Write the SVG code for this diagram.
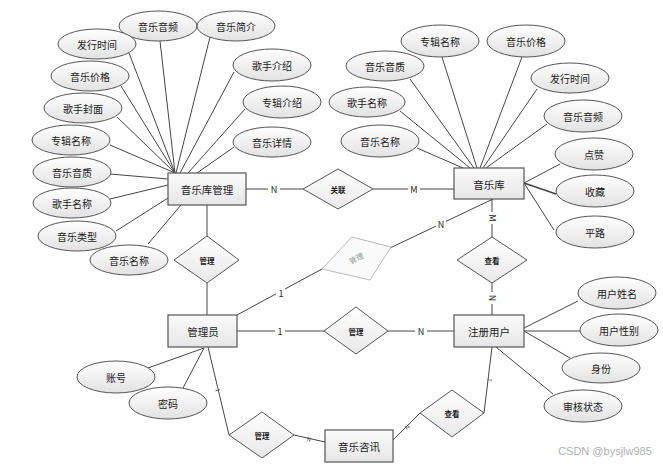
<svg xmlns="http://www.w3.org/2000/svg" width="663" height="464" viewBox="0 0 663 464">
<defs>
<linearGradient id="gE" x1="0" y1="0" x2="0" y2="1"><stop offset="0" stop-color="#ffffff"/><stop offset="1" stop-color="#e2e2e2"/></linearGradient>
<linearGradient id="gR" x1="0" y1="0" x2="0" y2="1"><stop offset="0" stop-color="#fbfbfb"/><stop offset="1" stop-color="#e6e6e6"/></linearGradient>
<linearGradient id="gD" x1="0" y1="0" x2="0" y2="1"><stop offset="0" stop-color="#ffffff"/><stop offset="1" stop-color="#e8e8e8"/></linearGradient>
</defs>
<style>
text{font-family:"Noto Sans CJK SC","Liberation Sans",sans-serif;fill:#1a1a1a;text-anchor:middle;dominant-baseline:central}
.a ellipse{fill:url(#gE);stroke:#555;stroke-width:1}
.a text{font-size:10px}
.e rect{fill:url(#gR);stroke:#555;stroke-width:1.2}
.e text{font-size:10.5px}
.r polygon{fill:url(#gD);stroke:#555;stroke-width:1}
.r text{font-size:7.5px;font-weight:bold}
#conn line,#conn polyline{stroke:#444;stroke-width:1;fill:none}
.lb{font-size:9px;fill:#222}
.sm{font-size:6px;fill:#555}
</style>
<rect width="663" height="464" fill="#ffffff"/>
<g id="conn">
<!-- 音乐库管理 attributes -->
<line x1="160" y1="41" x2="175" y2="173"/>
<line x1="210" y1="37" x2="176" y2="173"/>
<line x1="129" y1="53" x2="175" y2="173"/>
<line x1="121" y1="86" x2="175" y2="173"/>
<line x1="117" y1="117" x2="175" y2="173"/>
<line x1="110" y1="145" x2="175" y2="173"/>
<line x1="234" y1="72" x2="180" y2="173"/>
<line x1="245" y1="109" x2="188" y2="173"/>
<line x1="234" y1="147" x2="197" y2="173"/>
<line x1="110" y1="174" x2="168" y2="179"/>
<line x1="110" y1="199" x2="168" y2="185"/>
<line x1="116" y1="231" x2="168" y2="198"/>
<line x1="148" y1="244" x2="181" y2="205"/>
<!-- 音乐库 attributes -->
<line x1="442" y1="57" x2="477" y2="168"/>
<line x1="522" y1="57" x2="480" y2="168"/>
<line x1="410" y1="79" x2="474" y2="168"/>
<line x1="400" y1="111" x2="470" y2="168"/>
<line x1="417" y1="148" x2="463" y2="168"/>
<line x1="537" y1="89" x2="483" y2="168"/>
<line x1="547" y1="124" x2="486" y2="168"/>
<line x1="560" y1="164" x2="524" y2="183"/>
<line x1="556" y1="194" x2="524" y2="183" style="stroke-width:1.6"/>
<line x1="554" y1="230" x2="524" y2="183"/>
<!-- 注册用户 attributes -->
<line x1="524" y1="328" x2="578" y2="301"/>
<line x1="524" y1="331" x2="580" y2="331"/>
<line x1="524" y1="331" x2="570" y2="358"/>
<line x1="496" y1="347" x2="553" y2="394"/>
<!-- 管理员 attributes -->
<line x1="204" y1="348" x2="148" y2="368"/>
<line x1="204" y1="348" x2="183" y2="388"/>
<!-- relationships -->
<line x1="246" y1="189" x2="303" y2="189"/>
<line x1="373" y1="189" x2="454" y2="189"/>
<line x1="207" y1="205" x2="207" y2="236"/>
<line x1="207" y1="283" x2="207" y2="315"/>
<line x1="237" y1="315" x2="322" y2="269"/>
<line x1="390" y1="248" x2="493" y2="199"/>
<line x1="492" y1="199" x2="492" y2="237"/>
<line x1="492" y1="283" x2="492" y2="315"/>
<line x1="237" y1="331" x2="324" y2="331"/>
<line x1="388" y1="331" x2="454" y2="331"/>
<line x1="208" y1="347" x2="229" y2="435"/>
<line x1="294" y1="435" x2="325" y2="442"/>
<line x1="393" y1="440" x2="420" y2="413"/>
<line x1="484" y1="413" x2="492" y2="347"/>
</g>
<g id="labels">
<rect x="268" y="183" width="12" height="12" fill="#fff"/><text class="lb" x="274" y="189">N</text>
<rect x="408" y="183" width="12" height="12" fill="#fff"/><text class="lb" x="414" y="189">M</text>
<rect x="276" y="288" width="9" height="11" fill="#fff"/><text class="lb" x="281" y="293">1</text>
<rect x="436" y="219" width="10" height="11" fill="#fff"/><text class="lb" x="441" y="224">N</text>
<rect x="487" y="212" width="11" height="12" fill="#fff"/><text class="lb" x="492" y="218" transform="rotate(90 492 218)">M</text>
<rect x="487" y="292" width="11" height="12" fill="#fff"/><text class="lb" x="492" y="298" transform="rotate(90 492 298)">N</text>
<rect x="275" y="325" width="10" height="12" fill="#fff"/><text class="lb" x="280" y="331">1</text>
<rect x="415" y="325" width="12" height="12" fill="#fff"/><text class="lb" x="421" y="331">N</text>
<text class="sm" x="218" y="390" transform="rotate(76 218 390)">1</text>
<text class="sm" x="309" y="439" transform="rotate(13 309 439)">N</text>
<text class="sm" x="407" y="427" transform="rotate(-45 407 427)">N</text>
<text class="sm" x="489" y="380" transform="rotate(-83 489 380)">1</text>
</g>
<!-- entities -->
<g id="e_yyk_gl" class="e"><rect x="168" y="173" width="78" height="32"/><text x="207" y="189">音乐库管理</text></g>
<g id="e_yyk" class="e"><rect x="454" y="168" width="70" height="31"/><text x="489" y="184">音乐库</text></g>
<g id="e_gly" class="e"><rect x="168" y="315" width="69" height="32"/><text x="203" y="331">管理员</text></g>
<g id="e_zcyh" class="e"><rect x="454" y="315" width="70" height="32"/><text x="489" y="331">注册用户</text></g>
<g id="e_yyzx" class="e"><rect x="325" y="430" width="68" height="32"/><text x="359" y="446">音乐咨讯</text></g>
<!-- relationships -->
<g id="r_gl1" class="r"><polygon points="338,169 373,189 338,209 303,189"/><text x="338" y="189">关联</text></g>
<g id="r_gl2" class="r"><polygon points="207,236 239,260 207,283 174,260"/><text x="207" y="260">管理</text></g>
<g id="r_gl3" class="r"><polygon points="352,237 391,247 370,280 322,269" style="stroke:#bbb;fill:#fafafa"/><text x="356" y="258" transform="rotate(-28 356 258)" style="fill:#999;font-weight:normal">管理</text></g>
<g id="r_ck1" class="r"><polygon points="492,237 527,260 492,283 457,260"/><text x="492" y="260">查看</text></g>
<g id="r_gl4" class="r"><polygon points="356,307 388,331 356,354 324,331"/><text x="356" y="331">管理</text></g>
<g id="r_ck2" class="r"><polygon points="452,390 484,413 452,437 420,413"/><text x="452" y="413">查看</text></g>
<g id="r_gl5" class="r"><polygon points="262,412 294,435 262,458 229,435"/><text x="262" y="435">管理</text></g>
<!-- attributes of 音乐库管理 -->
<g id="a1" class="a"><ellipse cx="158" cy="26" rx="39" ry="15"/><text x="158" y="26">音乐音频</text></g>
<g id="a2" class="a"><ellipse cx="236" cy="26" rx="39" ry="15"/><text x="236" y="26">音乐简介</text></g>
<g id="a3" class="a"><ellipse cx="97" cy="44" rx="39" ry="15"/><text x="97" y="44">发行时间</text></g>
<g id="a4" class="a"><ellipse cx="90" cy="76" rx="39" ry="15"/><text x="90" y="76">音乐价格</text></g>
<g id="a5" class="a"><ellipse cx="83" cy="108" rx="39" ry="15"/><text x="83" y="108">歌手封面</text></g>
<g id="a6" class="a"><ellipse cx="71" cy="140" rx="39" ry="15"/><text x="71" y="140">专辑名称</text></g>
<g id="a7" class="a"><ellipse cx="272" cy="65" rx="39" ry="16"/><text x="272" y="65">歌手介绍</text></g>
<g id="a8" class="a"><ellipse cx="282" cy="102" rx="39" ry="16"/><text x="282" y="102">专辑介绍</text></g>
<g id="a9" class="a"><ellipse cx="272" cy="142" rx="39" ry="15"/><text x="272" y="142">音乐详情</text></g>
<g id="a10" class="a"><ellipse cx="72" cy="172" rx="39" ry="15"/><text x="72" y="172">音乐音质</text></g>
<g id="a11" class="a"><ellipse cx="72" cy="203" rx="39" ry="15"/><text x="72" y="203">歌手名称</text></g>
<g id="a12" class="a"><ellipse cx="77" cy="236" rx="39" ry="15"/><text x="77" y="236">音乐类型</text></g>
<g id="a13" class="a"><ellipse cx="129" cy="260" rx="39" ry="15"/><text x="129" y="260">音乐名称</text></g>
<!-- attributes of 音乐库 -->
<g id="b1" class="a"><ellipse cx="440" cy="41" rx="39" ry="16"/><text x="440" y="41">专辑名称</text></g>
<g id="b2" class="a"><ellipse cx="526" cy="41" rx="39" ry="16"/><text x="526" y="41">音乐价格</text></g>
<g id="b3" class="a"><ellipse cx="385" cy="66" rx="39" ry="15"/><text x="385" y="66">音乐音质</text></g>
<g id="b4" class="a"><ellipse cx="367" cy="102" rx="38" ry="15"/><text x="367" y="102">歌手名称</text></g>
<g id="b5" class="a"><ellipse cx="380" cy="141" rx="39" ry="16"/><text x="380" y="141">音乐名称</text></g>
<g id="b6" class="a"><ellipse cx="570" cy="78" rx="39" ry="15"/><text x="570" y="78">发行时间</text></g>
<g id="b7" class="a"><ellipse cx="583" cy="116" rx="39" ry="16"/><text x="583" y="116">音乐音频</text></g>
<g id="b8" class="a"><ellipse cx="594" cy="154" rx="39" ry="16"/><text x="594" y="154">点赞</text></g>
<g id="b9" class="a"><ellipse cx="595" cy="191" rx="39" ry="16"/><text x="595" y="191">收藏</text></g>
<g id="b10" class="a"><ellipse cx="595" cy="232" rx="39" ry="16"/><text x="595" y="232">平路</text></g>
<!-- attributes of 注册用户 -->
<g id="c1" class="a"><ellipse cx="617" cy="293" rx="39" ry="16"/><text x="617" y="293">用户姓名</text></g>
<g id="c2" class="a"><ellipse cx="619" cy="330" rx="39" ry="16"/><text x="619" y="330">用户性别</text></g>
<g id="c3" class="a"><ellipse cx="601" cy="368" rx="39" ry="15"/><text x="601" y="368">身份</text></g>
<g id="c4" class="a"><ellipse cx="583" cy="406" rx="39" ry="16"/><text x="583" y="406">审核状态</text></g>
<!-- attributes of 管理员 -->
<g id="d1" class="a"><ellipse cx="116" cy="377" rx="39" ry="16"/><text x="116" y="377">账号</text></g>
<g id="d2" class="a"><ellipse cx="168" cy="403" rx="39" ry="16"/><text x="168" y="403">密码</text></g>
<text x="605" y="451" style="font-size:11px;fill:#b0b0b0;font-family:'Liberation Sans','Noto Sans',sans-serif">CSDN @bysjlw985</text>
</svg>
